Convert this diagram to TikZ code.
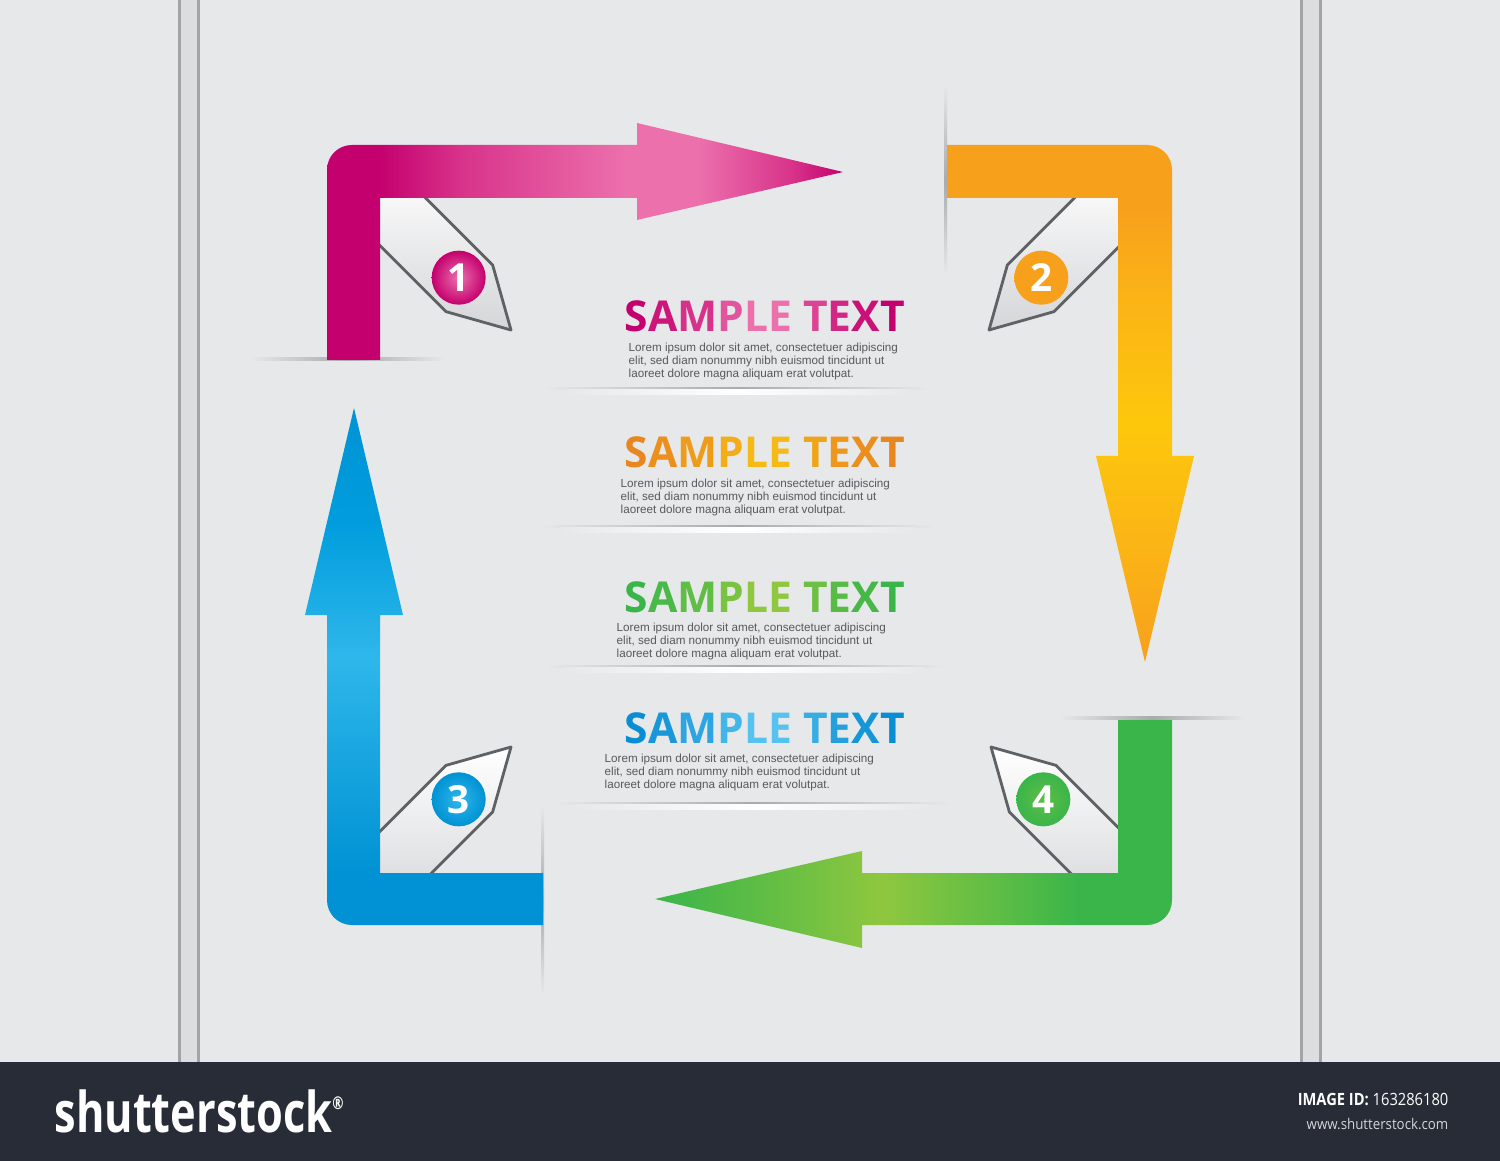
\documentclass[tikz,border=0pt]{standalone}
\usepackage{fontspec}
\setmainfont{Liberation Sans}
\newfontfamily\headfont{Open Sans}

\definecolor{bgcol}{HTML}{E7E8EA}
\definecolor{stripedark}{HTML}{A3A4A6}
\definecolor{stripelight}{HTML}{DCDDDF}
\definecolor{barcol}{HTML}{272C37}
\definecolor{slotgray}{HTML}{A9AAAC}
\definecolor{tagline}{HTML}{5E6264}
\definecolor{taggray}{HTML}{D5D6D8}
\definecolor{loremgray}{HTML}{58595B}
\definecolor{magdark}{HTML}{C4006E}
\definecolor{magmid}{HTML}{D8338A}
\definecolor{maglight}{HTML}{EC70AC}
\definecolor{orgdark}{HTML}{F7A01C}
\definecolor{orgmid}{HTML}{FBB416}
\definecolor{orgyel}{HTML}{FDC80C}
\definecolor{orgtext}{HTML}{E8861F}
\definecolor{orgtextlight}{HTML}{F6BA16}
\definecolor{grndark}{HTML}{3AB54A}
\definecolor{grnmid}{HTML}{5EBD45}
\definecolor{grnlight}{HTML}{8FC73F}
\definecolor{bludark}{HTML}{0092D4}
\definecolor{blumid}{HTML}{009DDD}
\definecolor{blulight}{HTML}{2EB7EA}
\definecolor{blutext}{HTML}{0A8ED3}
\definecolor{blutextlight}{HTML}{55C2F0}

\pgfdeclarehorizontalshading{magshade}{100bp}{color(0bp)=(magdark); color(30bp)=(magdark); color(38bp)=(magmid); color(54bp)=(maglight); color(61bp)=(maglight); color(70bp)=(magmid); color(75bp)=(magdark); color(100bp)=(magdark)}
\pgfdeclareverticalshading{orgshade}{100bp}{color(0bp)=(orgdark); color(25bp)=(orgdark); color(36bp)=(orgmid); color(48bp)=(orgyel); color(60bp)=(orgmid); color(69bp)=(orgdark); color(100bp)=(orgdark)}
\pgfdeclarehorizontalshading{grnshade}{100bp}{color(0bp)=(grndark); color(25bp)=(grndark); color(35bp)=(grnmid); color(47bp)=(grnlight); color(58bp)=(grnmid); color(66bp)=(grndark); color(100bp)=(grndark)}
\pgfdeclareverticalshading{blushade}{100bp}{color(0bp)=(bludark); color(30bp)=(bludark); color(51bp)=(blulight); color(64bp)=(blumid); color(75bp)=(bludark); color(100bp)=(bludark)}

% letters fade from #1 to #2 and back
\newcommand\sampletext[2]{\textcolor{#1}{S}\textcolor{#1!80!#2}{A}\textcolor{#1!55!#2}{M}\textcolor{#1!25!#2}{P}\textcolor{#2}{LE} \textcolor{#1!40!#2}{T}\textcolor{#1!65!#2}{E}\textcolor{#1!85!#2}{X}\textcolor{#1}{T}}

\begin{document}
\begin{tikzpicture}[x=0.01cm, y=-0.01cm]
\tikzset{
  tagbody/.style={
    draw=tagline,
    line width=0.8pt,
    line join=round,
    top color=white,
    bottom color=taggray
  },
  badge/.style={
    circle,
    minimum size=0.54cm,
    inner sep=0pt,
    text=white,
    font=\headfont\bfseries\fontsize{11}{11}\selectfont
  },
  title/.style={
    anchor=base west,
    inner sep=0pt,
    font=\headfont\bfseries\fontsize{12.1}{12.1}\selectfont
  },
  lorem/.style={
    anchor=north west,
    inner sep=0pt,
    align=left,
    text=loremgray,
    font=\fontsize{3.32}{3.7}\selectfont
  },
  hslot/.style={left color=bgcol, right color=bgcol, middle color=slotgray},
  vslot/.style={top color=bgcol, bottom color=bgcol, middle color=slotgray}
}
\useasboundingbox (0,0) rectangle (1500,1161);

% background and side stripes
\fill[bgcol] (0,0) rectangle (1500,1062);
\foreach \sx in {178,1300} {
  \fill[stripedark] (\sx,0) rectangle (\sx+22,1062);
  \fill[stripelight] (\sx+3,0) rectangle (\sx+19,1062);
}

% slots the arrows come out of
\shade[hslot] (250,358) rectangle (445,361);
\shade[vslot] (944,85) rectangle (947,275);
\shade[hslot] (1060,716) rectangle (1245,719);
\shade[vslot] (541,805) rectangle (544,995);

% separators under the text blocks
\foreach \sy/\sa/\sb in {388/545/930, 525/540/935, 665/545/945, 802/555/950} {
  \shade[hslot] (\sa,\sy) rectangle (\sb,\sy+2);
  \shade[left color=bgcol, right color=bgcol, middle color=white] (\sa+20,\sy+2) rectangle (\sb-20,\sy+7);
}

% tags with numbered badges
\foreach \i/\tx/\ty/\ang/\ci/\co in {1/511/330/-45/maglight/magdark, 2/989/330/-135/orgdark/orgdark, 3/511/747/45/blulight/bludark, 4/991/747/135/grnmid/grndark} {
  \begin{scope}[shift={(\tx,\ty)}, rotate=\ang]
    \path[tagbody] (0,0) -- (-59,33) -- (-200,33) -- (-200,-33) -- (-59,-33) -- cycle;
    \node[badge, inner color=\ci, outer color=\co] (badge-\i) at (-74,0) {\i};
  \end{scope}
}

% the four arrows
\shade[shading=magshade] (327,360) -- (327,170) .. controls (327,156) and (338,145) .. (352,145) -- (637,145) -- (637,123) -- (843,172) -- (637,220) -- (637,198) -- (380,198) -- (380,360) -- cycle;
\shade[shading=orgshade] (947,145) -- (1147,145) .. controls (1161,145) and (1172,156) .. (1172,170) -- (1172,456) -- (1194,456) -- (1145,662) -- (1096,456) -- (1118,456) -- (1118,198) -- (947,198) -- cycle;
\shade[shading=grnshade] (1172,720) -- (1172,900) .. controls (1172,914) and (1161,925) .. (1147,925) -- (862,925) -- (862,948) -- (655,899) -- (862,851) -- (862,873) -- (1118,873) -- (1118,720) -- cycle;
\shade[shading=blushade] (543,925) -- (352,925) .. controls (338,925) and (327,914) .. (327,900) -- (327,615) -- (305,615) -- (354,408) -- (403,615) -- (380,615) -- (380,873) -- (543,873) -- cycle;

% text blocks
\foreach \i/\ca/\cb/\ty/\lx in {1/magdark/maglight/332/628, 2/orgtext/orgtextlight/468/620, 3/grndark/grnlight/612/616, 4/blutext/blutextlight/743/604} {
  \node[title] (title-\i) at (624,\ty) {\sampletext{\ca}{\cb}};
  \node[lorem] (lorem-\i) at (\lx,\ty+10) {Lorem ipsum dolor sit amet, consectetuer adipiscing\\elit, sed diam nonummy nibh euismod tincidunt ut\\laoreet dolore magna aliquam erat volutpat.};
}

% bottom bar
\fill[barcol] (0,1062) rectangle (1500,1161);
\node[anchor=base west, inner sep=0pt, text=white, font=\headfont\bfseries\fontsize{16}{16}\selectfont] (logo) at (54,1132) {\scalebox{0.77}[1]{shutterstock\textsuperscript{\fontsize{5}{5}\selectfont\textregistered}}};
\node[anchor=base east, inner sep=0pt, text=white, font=\headfont\fontsize{4.8}{4.8}\selectfont] (imageid) at (1449,1105) {\scalebox{0.87}[1]{\textbf{IMAGE ID:} 163286180}};
\node[anchor=base east, inner sep=0pt, text=white!80!barcol, font=\headfont\fontsize{4.2}{4.2}\selectfont] (site) at (1449,1129) {\scalebox{0.9}[1]{www.shutterstock.com}};
\end{tikzpicture}
\end{document}
